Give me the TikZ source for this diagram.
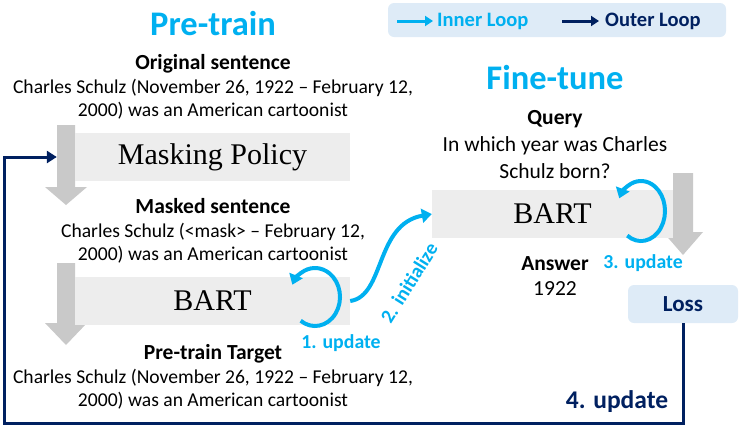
\documentclass[tikz,border=0pt]{standalone}
\usepackage{fontspec}
\setmainfont{Carlito}
\newfontfamily\modelfont{Liberation Serif}
\usetikzlibrary{arrows.meta}

\definecolor{innerblue}{RGB}{0,176,240}
\definecolor{outerblue}{RGB}{0,32,96}
\definecolor{boxgray}{RGB}{237,237,237}
\definecolor{flowgray}{RGB}{201,201,201}
\definecolor{legendfill}{RGB}{222,235,247}

\newcommand{\headline}[1]{{\fontsize{21.5}{23.5}\selectfont\bfseries #1}}

\tikzset{
    txt/.style={align=center, inner sep=0pt, font=\fontsize{19.6}{23.5}\selectfont},
    title/.style={inner sep=0pt, anchor=base, text=innerblue, font=\fontsize{34.5}{40}\selectfont\bfseries},
    model/.style={fill=boxgray, inner sep=0pt, minimum height=48, font=\fontsize{30}{36}\selectfont\modelfont},
    steplbl/.style={inner sep=0pt, text=innerblue, font=\fontsize{19.8}{22}\selectfont\bfseries},
    flow/.style={fill=flowgray},
    inner/.style={innerblue, line width=4pt, -{Triangle[length=10pt,width=14pt]}},
    outer/.style={outerblue, line width=3pt, -{Triangle[length=10pt,width=12pt]}},
    panel/.style={fill=legendfill, rounded corners=6pt, inner sep=0pt}
}

\begin{document}
\begin{tikzpicture}[x=1pt, y=-1pt]
                    \useasboundingbox (0,0) rectangle (741,429);

                    % legend
                    \node[panel, minimum width=338, minimum height=34] (legend) at (557,20) {};
                    \coordinate (ina) at (397,21);
                    \coordinate (inb) at (433,21);
                    \coordinate (outa) at (562,21);
                    \coordinate (outb) at (599,21);
                    \draw[innerblue, line width=3pt, -{Triangle[length=8pt,width=10pt]}] (ina) -- (inb);
                    \draw[outerblue, line width=3pt, -{Triangle[length=8pt,width=10pt]}] (outa) -- (outb);
                    \node[anchor=west, inner sep=0pt, text=innerblue, font=\fontsize{20.5}{22}\selectfont\bfseries] (inlbl) at (437,21) {Inner Loop};
                    \node[anchor=west, inner sep=0pt, text=outerblue, font=\fontsize{20.5}{22}\selectfont\bfseries] (outlbl) at (605,21) {Outer Loop};

                    % grey flow arrows
                    \fill[flow] (57,125) -- (75,125) -- (75,187) -- (87,187) -- (66,205) -- (45,187) -- (57,187) -- cycle;
                    \fill[flow] (57,263) -- (75,263) -- (75,323) -- (87,323) -- (66,345) -- (45,323) -- (57,323) -- cycle;
                    \fill[flow] (673,173) -- (693,173) -- (693,232) -- (703,232) -- (683,255) -- (663,232) -- (673,232) -- cycle;

                    % pre-train side
                    \node[title] (pretrain) at (213,35) {Pre-train};
                    \node[txt] (orig) at (213,87) {\headline{Original sentence}\\Charles Schulz (November 26, 1922 -- February 12,\\2000) was an American cartoonist};
                    \node[model, minimum width=275] (mask) at (212.5,157) {Masking Policy};
                    \node[txt] (masked) at (213,231) {\headline{Masked sentence}\\Charles Schulz (<mask> -- February 12,\\2000) was an American cartoonist};
                    \node[model, minimum width=275] (bartpre) at (212.5,301) {BART};
                    \node[txt] (target) at (213,377) {\headline{Pre-train Target}\\Charles Schulz (November 26, 1922 -- February 12,\\2000) was an American cartoonist};

                    % fine-tune side
                    \node[title] (finetune) at (555,89) {Fine-tune};
                    \node[txt, font=\fontsize{21.5}{27}\selectfont] (query) at (555,145) {\textbf{Query}\\In which year was Charles\\Schulz born?};
                    \node[model, minimum width=241] (bartft) at (552.5,214) {BART};
                    \node[txt, font=\fontsize{21.5}{25}\selectfont] (answer) at (555,276) {\textbf{Answer}\\1922};
                    \node[panel, minimum width=110, minimum height=38, text=outerblue, font=\fontsize{23}{26}\selectfont\bfseries] (loss) at (683,304) {Loss};

                    % inner loop
                    \draw[inner] (315,297) ++(125:25 and 29) arc[start angle=125, end angle=-155, x radius=25, y radius=29];
                    \draw[inner] (641,211) ++(125:24 and 30) arc[start angle=125, end angle=-155, x radius=24, y radius=30];
                    \draw[inner] (bartpre.east) .. controls (385,296) and (375,224) .. (bartft.west);
                    \node[steplbl] (upd1) at (341,343) {1. update};
                    \node[steplbl, rotate=58] (init) at (409,283) {2. initialize};
                    \node[steplbl] (upd3) at (643,263) {3. update};

                    % outer loop
                    \draw[outer] (loss.south) -- ++(0,100) -| ([xshift=-70pt]mask.west) -- ([xshift=-18pt]mask.west);
                    \node[inner sep=0pt, text=outerblue, font=\fontsize{25.5}{30}\selectfont\bfseries] (upd4) at (617,402) {4. update};
                \end{tikzpicture}
\end{document}
